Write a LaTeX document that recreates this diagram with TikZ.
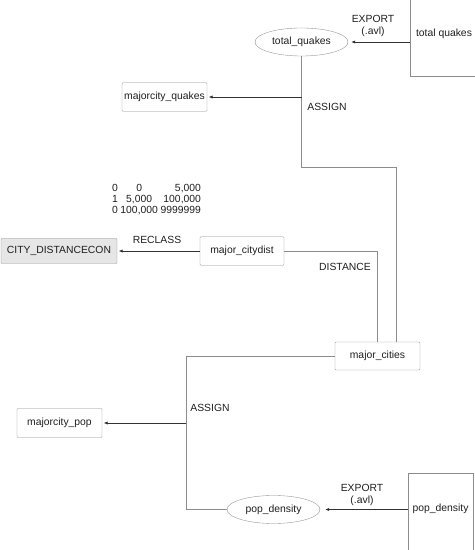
\documentclass[tikz,border=0pt]{standalone}
\usepackage{fontspec}
\setmainfont{Liberation Sans}
\usetikzlibrary{arrows.meta,positioning,shapes.geometric}
\definecolor{edgegray}{RGB}{140,140,140}
\definecolor{arrgray}{RGB}{50,50,50}
\definecolor{boxfill}{RGB}{230,230,230}
\definecolor{txtcol}{RGB}{30,30,30}
\newcommand{\dfont}{\fontsize{11.8}{13.6}\selectfont}
\tikzset{
  dbox/.style={draw=edgegray, rounded corners=1pt, minimum width=3.4cm,
               minimum height=1.14cm, inner sep=0pt, font=\dfont, text=txtcol},
  dell/.style={ellipse, draw=edgegray, minimum width=3.72cm, minimum height=1.12cm,
               inner sep=0pt, font=\dfont, text=txtcol},
  srcbox/.style={draw=edgegray, inner sep=0pt, anchor=base, font=\dfont, text=txtcol},
  lnk/.style={edgegray, thick},
  flowarr/.style={-{Latex[length=1.6mm,width=1.3mm]}, arrgray, thick},
  oplab/.style={font=\dfont, text=txtcol, align=center, inner sep=0pt},
}
\begin{document}
\begin{tikzpicture}
  \useasboundingbox (0,0) rectangle (18.96,22);
  % sources on the right
  \node[srcbox, minimum width=2.72cm, text height=1.88cm, text depth=1.56cm]
       (tqsrc) at (17.76,20.52) {total quakes};
  \node[srcbox, minimum width=2.6cm, text height=1.56cm, text depth=1.92cm]
       (popsrc) at (17.62,1.52) {pop\_density};
  % exported layers
  \node[dell] (tq) at (12.06,20.32) {total\_quakes};
  \node[dell] (pd) at (10.94,1.62) {pop\_density};
  % data boxes
  \node[dbox] (mcq) at (6.58,18.12) {majorcity\_quakes};
  \node[dbox, minimum width=3.36cm] (mcd) at (9.68,11.96) {major\_citydist};
  \node[dbox, fill=boxfill, minimum width=4.64cm, minimum height=1.0cm]
       (cdc) at (2.36,11.96) {CITY\_DISTANCECON};
  \node[dbox, minimum height=1.12cm] (mc) at (15.1,7.76) {major\_cities};
  \node[dbox, minimum height=1.16cm] (mcp) at (2.38,5.08) {majorcity\_pop};
  % reclass table
  \node[oplab, font=\fontsize{11.8}{12.6}\selectfont] (rcltab) at (6.26,14.0)
       {\begin{tabular}{@{}c@{\hspace{3pt}}c@{\hspace{3pt}}r@{}}
          0 & 0 & 5,000\\
          1 & 5,000 & 100,000\\
          0 & 100,000 & 9999999
        \end{tabular}};
  \coordinate (tqturn) at (15.84,15.32);
  \coordinate (popturn) at (7.44,0);
  % connectors
  \draw[flowarr, shorten >=0.12cm] (tq.east -| tqsrc.west) -- (tq.east);
  \draw[flowarr, shorten >=0.2cm] (pd.east -| popsrc.west) -- (pd.east);
  \draw[lnk] (tq.south) |- (tqturn) -- (tqturn |- mc.north);
  \draw[flowarr, shorten >=0.06cm] (mcq.east -| tq.south) -- (mcq.east);
  \draw[flowarr, shorten >=0.06cm] (mcd.west) -- (cdc.east);
  \draw[lnk] (mcd.east) -| (mc.north);
  \draw[lnk] (mc.west) -| (popturn |- pd.west) -- (pd.west);
  \draw[flowarr, shorten >=0.06cm] (mcp.east -| popturn) -- (mcp.east);
  % operation labels
  \node[oplab] (exptq) at (14.92,20.96) {EXPORT\\(.avl)};
  \node[oplab] (exppd) at (14.48,2.22) {EXPORT\\(.avl)};
  \node[oplab] (asgtq) at (13.08,17.72) {ASSIGN};
  \node[oplab] (rcl) at (6.28,12.4) {RECLASS};
  \node[oplab] (dst) at (13.8,11.32) {DISTANCE};
  \node[oplab] (asgpd) at (8.4,5.68) {ASSIGN};
\end{tikzpicture}
\end{document}
